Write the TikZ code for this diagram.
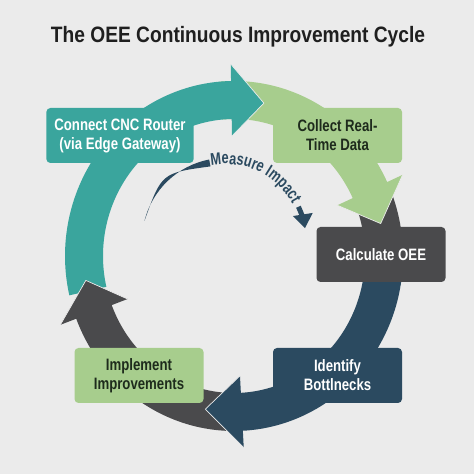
\documentclass[tikz,border=0pt]{standalone}
\usepackage{fontspec}
\usetikzlibrary{arrows.meta}
\usetikzlibrary{decorations.text}

\newfontfamily\boxFamily{Liberation Sans}[FakeStretch=0.80]
\newfontfamily\impactFamily{Liberation Sans}[FakeStretch=0.75]
\newfontfamily\titleFamily{Liberation Sans}[FakeStretch=0.86]

\definecolor{bgGray}{HTML}{EBEBEB}
\definecolor{ringTeal}{HTML}{3AA59D}
\definecolor{ringGreen}{HTML}{A7CD8D}
\definecolor{ringGray}{HTML}{4A4A4C}
\definecolor{ringBlue}{HTML}{2B4A60}
\definecolor{darkText}{HTML}{1E2B1C}
\definecolor{titleBlack}{HTML}{1F1F1F}

\newcommand{\impactFont}{\impactFamily\bfseries\fontsize{17}{20}\selectfont}

\begin{document}
\begin{tikzpicture}
[x=1pt, y=1pt,
  cycleBox/.style={rounded corners=4pt, minimum width=129pt, minimum height=55pt,
    inner xsep=8pt, align=center, font=\boxFamily\bfseries\fontsize{16.5}{19}\selectfont},
  tealBox/.style={cycleBox, fill=ringTeal, text=white},
  greenBox/.style={cycleBox, fill=ringGreen, text=darkText},
  grayBox/.style={cycleBox, fill=ringGray, text=white},
  blueBox/.style={cycleBox, fill=ringBlue, text=white},
  headEdge/.style={bgGray, line width=0.7pt, line join=round}]
%% background
\fill[bgGray] (0,0) rectangle (474,474);
\useasboundingbox (0,0) rectangle (474,474);
%% ring segments
\begin{scope}[shift={(234,218)}]
\foreach \colour/\startangle/\endangle/\tipangle in {
  ringGray/20/-4/-8, ringGreen/95/25/12, ringTeal/193/91/78.5,
  ringGray/-92/-159/-171, ringBlue/-4/-87/-101}
{
  \fill[\colour] (\startangle:169pt and 175pt)
    arc[start angle=\startangle, end angle=\endangle, x radius=169pt, y radius=175pt]
    -- (\endangle:186pt and 192pt) -- (\tipangle:150pt and 156pt) -- (\endangle:114pt and 120pt)
    -- (\endangle:131pt and 137pt)
    arc[start angle=\endangle, end angle=\startangle, x radius=131pt, y radius=137pt] -- cycle;
  \draw[headEdge] (\endangle:186pt and 192pt) -- (\tipangle:150pt and 156pt) -- (\endangle:114pt and 120pt);
}
\end{scope}
%% nodes or boxes
\foreach \nodename/\boxstyle/\x/\y/\code in {
  connect/tealBox/120/338.5/{Connect CNC Router\\(via Edge Gateway)},
  collect/greenBox/337.5/338.5/{Collect Real-\\Time Data},
  calculate/grayBox/381/219.5/{Calculate OEE},
  identify/blueBox/337.5/98.5/{Identify\\Bottlnecks},
  implement/greenBox/139/98.5/{Implement\\Improvements}}
{
  \node (\nodename) at (\x,\y) [\boxstyle] {\code};
}
%% measure impact arrow
\begin{scope}[shift={(225,233)}]
\fill[ringBlue] (101:83pt) arc[start angle=101, end angle=166, radius=83pt]
  .. controls (133:93pt) .. (101:76pt) -- cycle;
\path[decorate, decoration={text along path, text align=center, text color=ringBlue,
  text={|\impactFont|Measure Impact}}]
  (102:77pt) arc[start angle=102, end angle=27, radius=77pt];
\draw[ringBlue, line width=5pt, -{Triangle[width=19pt, length=14pt]}]
  (25:81pt) arc[start angle=25, end angle=9, radius=81pt];
\end{scope}
%% title
\node (title) at (238,437) [text=titleBlack]
  {\titleFamily\bfseries\fontsize{22.3}{26}\selectfont The OEE Continuous Improvement Cycle};
\end{tikzpicture}
\end{document}
